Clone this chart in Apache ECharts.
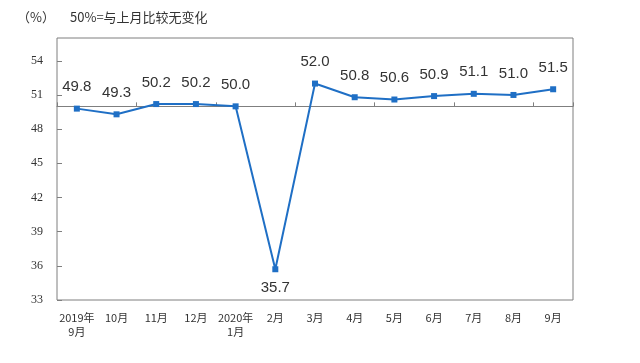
<!DOCTYPE html>
<html>
<head>
<meta charset="utf-8">
<script src="https://cdn.jsdelivr.net/npm/echarts@6/dist/echarts.min.js"></script>
<style>html,body{margin:0;padding:0;background:#fff;}#c{width:640px;height:363px;}</style>
</head>
<body>
<div id="c"></div>
<script>
var categories = ['2019年\n9月','10月','11月','12月','2020年\n1月','2月','3月','4月','5月','6月','7月','8月','9月'];
var values = [49.8, 49.3, 50.2, 50.2, 50.0, 35.7, 52.0, 50.8, 50.6, 50.9, 51.1, 51.0, 51.5];
var yMin = 33, yMax = 56, yInterval = 3, refValue = 50;
var unitText = '（%）';
var noteText = '50%=与上月比较无变化';

var gridTop = 38, gridBottom = 63;
var gridH = 363 - gridTop - gridBottom;
var refOffset = -(refValue - yMin) / (yMax - yMin) * gridH;

var chart = echarts.init(document.getElementById('c'), null, {renderer: 'canvas'});
chart.setOption({
  animation: false,
  backgroundColor: '#fff',
  textStyle: {fontFamily: '"Noto Sans CJK SC", sans-serif'},
  graphic: [
    {type: 'text', left: 17, top: 11, style: {text: unitText, fontSize: 13, fill: '#333', fontFamily: '"Noto Sans CJK SC"'}},
    {type: 'text', left: 70, top: 11, style: {text: noteText, fontSize: 13, fill: '#333', fontFamily: '"Noto Sans CJK SC"'}}
  ],
  grid: {left: 57, right: 67, top: gridTop, bottom: gridBottom, show: true, borderColor: '#7f7f7f', borderWidth: 1, containLabel: false},
  xAxis: [
    {
      type: 'category', data: categories, position: 'bottom', boundaryGap: true,
      axisLine: {show: false}, axisTick: {show: false},
      axisLabel: {margin: 11, fontSize: 11, lineHeight: 14, color: '#333', fontFamily: '"Noto Sans CJK SC"', interval: 0}
    },
    {
      type: 'category', data: categories, position: 'bottom', offset: refOffset, boundaryGap: true,
      axisLine: {show: true, lineStyle: {color: '#7f7f7f', width: 1}},
      axisTick: {show: true, inside: true, length: 4, lineStyle: {color: '#7f7f7f'}},
      axisLabel: {show: false}
    }
  ],
  yAxis: {
    type: 'value', min: yMin, max: yMax, interval: yInterval,
    axisLine: {show: false},
    axisTick: {show: true, inside: true, length: 5, lineStyle: {color: '#7f7f7f'}},
    splitLine: {show: false},
    axisLabel: {showMaxLabel: false, margin: 14, fontSize: 12, color: '#333', fontFamily: '"Liberation Serif", serif'}
  },
  series: [{
    type: 'line', xAxisIndex: 0,
    symbol: 'rect', symbolSize: 6,
    lineStyle: {color: '#1f6fc5', width: 2},
    itemStyle: {color: '#1f6fc5'},
    label: {
      show: true, position: 'top', distance: 11, fontSize: 15, color: '#333',
      fontFamily: '"Liberation Sans", Arial',
      formatter: function (p) { return p.value.toFixed(1); }
    },
    labelLayout: {hideOverlap: false},
    data: values.map(function (v) {
      return v < yMin + 6 ? {value: v, label: {position: 'bottom', distance: 8}} : v;
    })
  }]
});
</script>
</body>
</html>
